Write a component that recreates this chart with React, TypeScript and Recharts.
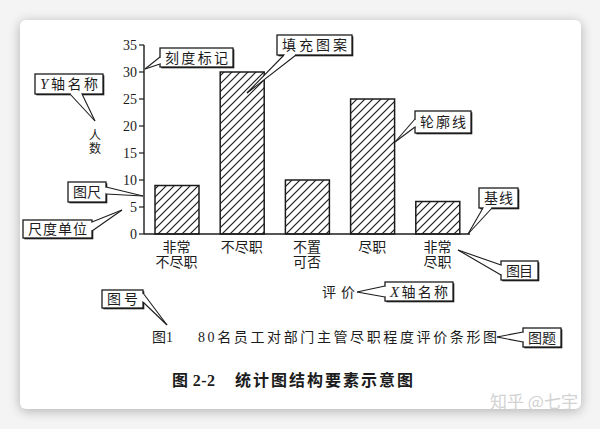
import { BarChart, Bar, XAxis, YAxis } from 'recharts';

// 评价类别与人数
const categories = ['非常\n不尽职', '不尽职', '不置\n可否', '尽职', '非常\n尽职'];
const counts = [9, 30, 10, 25, 6];
const yTicks = [0, 5, 10, 15, 20, 25, 30, 35];

const CJK = '"Liberation Serif", "Noto Sans CJK SC", serif';
const INK = '#1c1c1c';

const data = categories.map((name, i) => ({ name, value: counts[i] }));

// callouts: box, label, side of the box the pointer leaves from, base points along that side, tip
type Callout = {
  x: number; y: number; w: number; h: number;
  label: string; italic?: string;
  side: 'l' | 'r' | 't' | 'b'; b1: number; b2: number;
  tip: [number, number];
};

const callouts: Callout[] = [
  { x: 160, y: 48, w: 73, h: 19, label: '刻度标记', side: 'l', b1: 57, b2: 64, tip: [145, 69] },
  { x: 35, y: 74, w: 68, h: 20, label: '轴名称', italic: 'Y', side: 'b', b1: 70, b2: 82, tip: [95, 121] },
  { x: 277, y: 35, w: 75, h: 20, label: '填充图案', side: 'b', b1: 284, b2: 296, tip: [247, 93] },
  { x: 415, y: 111, w: 56, h: 22, label: '轮廓线', side: 'l', b1: 119, b2: 127, tip: [395, 142] },
  { x: 479, y: 188, w: 39, h: 20, label: '基线', side: 'b', b1: 483, b2: 492, tip: [468, 234] },
  { x: 68, y: 182, w: 38, h: 20, label: '图尺', side: 'r', b1: 187, b2: 194, tip: [143, 196] },
  { x: 23, y: 220, w: 69, h: 18, label: '尺度单位', side: 'r', b1: 222, b2: 231, tip: [122, 210] },
  { x: 501, y: 261, w: 37, h: 19, label: '图目', side: 'l', b1: 265, b2: 275, tip: [458, 250] },
  { x: 385, y: 282, w: 68, h: 19, label: '轴名称', italic: 'X', side: 'l', b1: 286, b2: 297, tip: [357, 292] },
  { x: 102, y: 290, w: 41, h: 18, label: '图号', side: 'r', b1: 293, b2: 302, tip: [167, 325] },
  { x: 523, y: 328, w: 38, h: 19, label: '图题', side: 'l', b1: 332, b2: 342, tip: [497, 337] },
];

function CategoryTick({ x, y, payload }: any) {
  const lines = String(payload.value).split('\n');
  return (
    <text x={x} y={y} textAnchor="middle" fontSize={14} fill={INK} fontFamily={CJK}>
      {lines.map((l, i) => (
        <tspan key={i} x={x} dy={i === 0 ? 10 : 15}>
          {l}
        </tspan>
      ))}
    </text>
  );
}

function CalloutBox({ c }: { c: Callout }) {
  const { x, y, w, h, side, b1, b2, tip } = c;
  let p1: [number, number];
  let p2: [number, number];
  let gap;
  if (side === 'l' || side === 'r') {
    const ex = side === 'l' ? x : x + w;
    p1 = [ex, b1];
    p2 = [ex, b2];
    gap = <rect x={ex - 2.5} y={b1 + 0.8} width={5} height={b2 - b1 - 1.6} fill="#fff" />;
  } else {
    const ey = side === 't' ? y : y + h;
    p1 = [b1, ey];
    p2 = [b2, ey];
    gap = <rect x={b1 + 0.8} y={ey - 2.5} width={b2 - b1 - 1.6} height={5} fill="#fff" />;
  }
  const pad = 5;
  return (
    <g>
      <rect x={x + 1.3} y={y + 1.3} width={w} height={h} fill={INK} />
      <rect x={x} y={y} width={w} height={h} fill="#fff" stroke={INK} strokeWidth={1.3} />
      {gap}
      <polygon points={`${p1.join(',')} ${tip.join(',')} ${p2.join(',')}`} fill="#fff" stroke="none" />
      <line x1={p1[0]} y1={p1[1]} x2={tip[0]} y2={tip[1]} stroke={INK} strokeWidth={1.1} />
      <line x1={p2[0]} y1={p2[1]} x2={tip[0]} y2={tip[1]} stroke={INK} strokeWidth={1.1} />
      <text
        x={x + pad}
        y={y + h / 2 + 5}
        fontSize={14}
        fill={INK}
        fontFamily={CJK}
        textLength={w - 2 * pad}
        lengthAdjust="spacing"
      >
        {c.italic && (
          <tspan fontStyle="italic" fontFamily='"Liberation Serif", serif' fontSize={15}>
            {c.italic}
          </tspan>
        )}
        {c.label}
      </text>
    </g>
  );
}

export default function App() {
  return (
    <div
      style={{
        position: 'absolute',
        left: 0,
        top: 0,
        width: 600,
        height: 429,
        overflow: 'hidden',
        background: '#f4f4f4',
      }}
    >
      <div
        style={{
          position: 'absolute',
          left: 20,
          top: 20,
          width: 561,
          height: 389,
          background: '#fff',
          borderRadius: 6,
          boxShadow: '0 2px 12px rgba(0,0,0,0.28)',
        }}
      />
      <div style={{ position: 'absolute', left: 0, top: 0 }}>
        <BarChart
          width={600}
          height={429}
          data={data}
          margin={{ top: 45, right: 130, left: 114, bottom: 165 }}
        >
          <defs>
            <pattern id="hatch" patternUnits="userSpaceOnUse" width={8} height={8}>
              <path d="M-2,2 L2,-2 M0,8 L8,0 M6,10 L10,6" stroke={INK} strokeWidth={1.2} />
            </pattern>
          </defs>
          <XAxis
            dataKey="name"
            height={30}
            tickLine={false}
            axisLine={{ stroke: INK, strokeWidth: 1.4 }}
            tick={<CategoryTick />}
            interval={0}
          />
          <YAxis
            width={30}
            domain={[0, 35]}
            ticks={yTicks}
            tickSize={5}
            tickMargin={2}
            axisLine={{ stroke: INK, strokeWidth: 1.4 }}
            tickLine={{ stroke: INK, strokeWidth: 1.2 }}
            tick={{ fontSize: 14, fill: INK, fontFamily: '"Liberation Serif", serif' }}
          />
          <Bar
            dataKey="value"
            barSize={44}
            fill="url(#hatch)"
            stroke={INK}
            strokeWidth={1.5}
            isAnimationActive={false}
          />
        </BarChart>
      </div>
      <svg
        width={600}
        height={429}
        style={{ position: 'absolute', left: 0, top: 0, pointerEvents: 'none' }}
      >
        {/* Y 轴名称 */}
        <text x={95} y={140} textAnchor="middle" fontSize={12} fill={INK} fontFamily={CJK}>
          人
        </text>
        <text x={95} y={153} textAnchor="middle" fontSize={12} fill={INK} fontFamily={CJK}>
          数
        </text>
        {/* X 轴名称 */}
        <text x={322} y={297} fontSize={14} fill={INK} fontFamily={CJK} textLength={33} lengthAdjust="spacing">
          评价
        </text>
        {/* 图题 */}
        <text x={152} y={342} fontSize={14} fill={INK} fontFamily={CJK}>
          图1
        </text>
        <text x={198} y={342} fontSize={14} fill={INK} fontFamily={CJK} textLength={299} lengthAdjust="spacing">
          80名员工对部门主管尽职程度评价条形图
        </text>
        {/* 示意图标题 */}
        <text x={172} y={386} fontSize={16} fontWeight="bold" fill={INK} fontFamily={CJK} textLength={43} lengthAdjust="spacing">
          图 2-2
        </text>
        <text x={235} y={386} fontSize={16} fontWeight="bold" fill={INK} fontFamily={CJK} textLength={178} lengthAdjust="spacing">
          统计图结构要素示意图
        </text>
        {callouts.map((c, i) => (
          <CalloutBox key={i} c={c} />
        ))}
        {/* 水印 */}
        <text x={490} y={408} fontSize={17} fill="#d2d2d2" fontFamily='"Noto Sans CJK SC", sans-serif'>
          知乎 @七宇
        </text>
      </svg>
    </div>
  );
}
